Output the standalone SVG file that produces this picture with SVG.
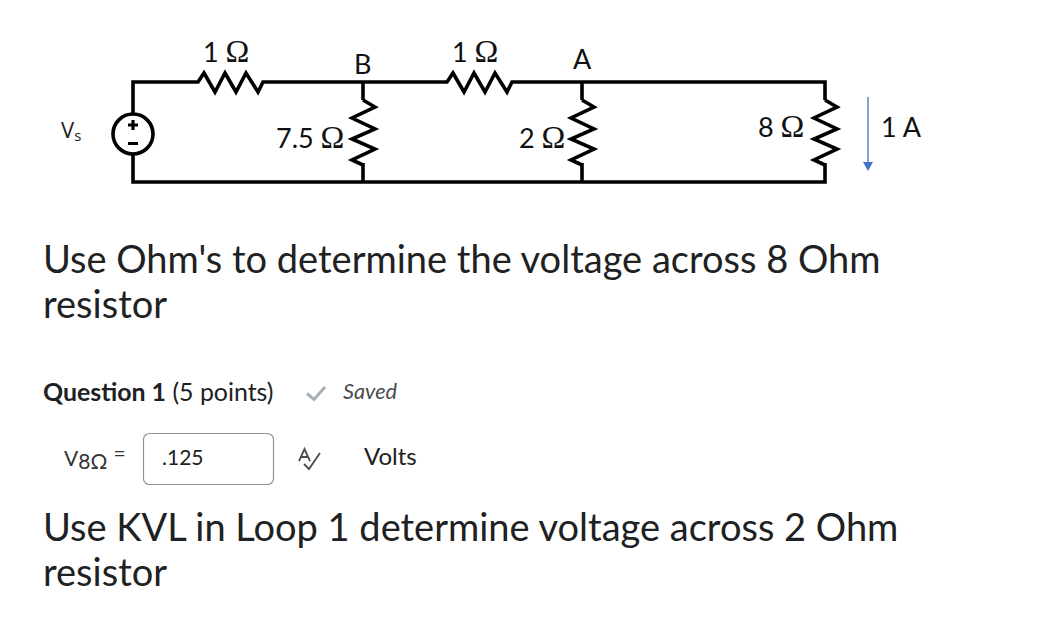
<svg xmlns="http://www.w3.org/2000/svg" width="1058" height="623" viewBox="0 0 1058 623">
<style>
.w{fill:none;stroke:#000;stroke-width:3.6;stroke-linejoin:miter}
.c{font-family:Lato,"Liberation Sans",sans-serif;font-size:27px;fill:#111}
.o{font-family:"Liberation Serif",serif;font-size:32px}
.h{font-family:Lato,"Liberation Sans",sans-serif;font-size:38px;fill:#202122}
.q{font-family:Lato,"Liberation Sans",sans-serif;font-size:24.900px;fill:#202122}
</style>
<defs>
<path id="rv" d="M0 -20 L12 -13 L-11 -2 L12 9 L-11 19 L12 29 L-11 40 L0 45" class="w"/>
<path id="rh" d="M0 0 L17 0 L23 -9 L34 10 L44 -9 L55 10 L65 -9 L77 10 L82 0 L100 0" class="w"/>
</defs>
<rect width="1058" height="623" fill="#fff"/>
<g id="connectors">
<path class="w" d="M181 82H133V114M133 154V182H825V163M281 82H430M530 82H825V100M363 82V100M363 163V182M582 82V100M582 163V182"/>
<path d="M868 97V163" fill="none" stroke="#4472c4" stroke-width="1.300"/>
<path d="M863 162H873L868 171Z" fill="#4472c4"/>
</g>
<g id="r1"><use href="#rh" x="181" y="82"/><text class="c" x="203" y="62">1 <tspan class="o">Ω</tspan></text></g>
<g id="r2"><use href="#rh" x="430" y="82"/><text class="c" x="452" y="62">1 <tspan class="o">Ω</tspan></text></g>
<g id="r75"><use href="#rv" x="363" y="120"/><text class="c" x="276" y="148">7.5 <tspan class="o">Ω</tspan></text></g>
<g id="r3"><use href="#rv" x="582" y="120"/><text class="c" x="519" y="148">2 <tspan class="o">Ω</tspan></text></g>
<g id="r8"><use href="#rv" x="825" y="120"/><text class="c" x="758" y="137">8 <tspan class="o">Ω</tspan></text></g>
<g id="source">
<circle cx="133" cy="134" r="20" fill="#fff" stroke="#000" stroke-width="3.600"/>
<path d="M133 120V130M128 125H138M128 143.500H138" fill="none" stroke="#000" stroke-width="3.200"/>
</g>
<g id="labels">
<text x="61" y="138" font-family="Open Sans,Liberation Sans,sans-serif" font-size="22" fill="#222">V<tspan font-size="15" dy="3">s</tspan></text>
<text class="c" x="354" y="74">B</text>
<text class="c" x="573" y="69">A</text>
<text class="c" x="881" y="137">1 A</text>
</g>
<text class="h" x="43" y="273">Use Ohm's to determine the voltage across 8 Ohm</text>
<text class="h" x="43" y="318">resistor</text>
<text class="q" x="43" y="401"><tspan font-weight="700">Question 1</tspan> (5 points)</text>
<path d="M307 393.500L314 399.500L325 387" fill="none" stroke="#a9aeb3" stroke-width="3"/>
<text x="343" y="399" font-family="Lato,Liberation Sans,sans-serif" font-style="italic" font-size="21.700" fill="#494c4e">Saved</text>
<text x="64" y="466" font-family="Lato,Liberation Sans,sans-serif" font-size="21" fill="#333">V<tspan dy="3">8Ω</tspan><tspan dy="-8" dx="6">=</tspan></text>
<g id="input">
<rect x="143.500" y="433.500" width="130" height="51" rx="6" fill="#fff" stroke="#8f9499" stroke-width="1.200"/>
<text x="162" y="465" font-family="Lato,Liberation Sans,sans-serif" font-size="21" fill="#202122">.125</text>
</g>
<g id="spell" fill="none" stroke="#494c4e" stroke-width="1.800">
<path d="M299 461L304.500 449L310 461M301 457H308M304 464L309 469L320 453"/>
</g>
<text x="364" y="465" font-family="Lato,Liberation Sans,sans-serif" font-size="24" fill="#202122">Volts</text>
<text class="h" x="43" y="541">Use KVL in Loop 1 determine voltage across 2 Ohm</text>
<text class="h" x="43" y="586">resistor</text>
</svg>
